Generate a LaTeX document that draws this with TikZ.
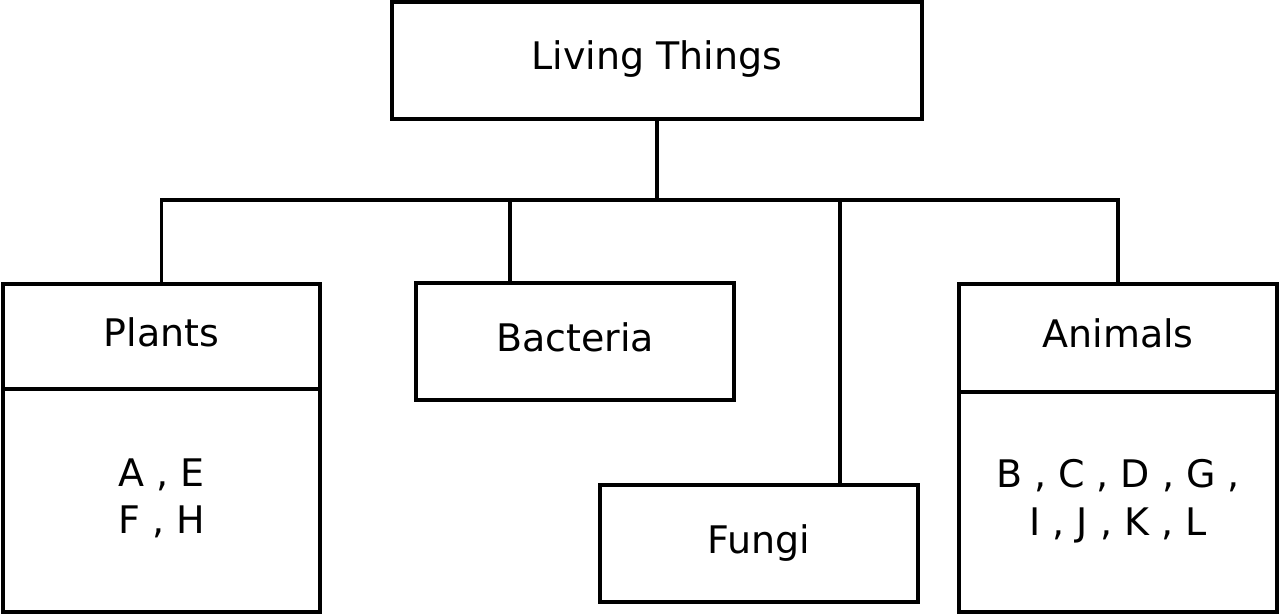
\documentclass[tikz,border=0pt]{standalone}
\usepackage{fontspec}
\setmainfont{DejaVu Sans}
\newcommand{\mybt}[1]{\raisebox{-2.1pt}{\begin{tabular}{@{}c@{}}#1\end{tabular}}}
\begin{document}
\begin{tikzpicture}[x=0.01cm,y=-0.01cm,
  box/.style={draw,line width=0.95pt,inner sep=0pt,outer sep=0pt,font=\fontsize{10.8}{13.5}\selectfont},
  conn/.style={line width=0.95pt}]
\useasboundingbox (0,0) rectangle (1280,615);
\node[box,minimum width=530*0.01cm,minimum height=117*0.01cm] (living) at (657,60.5) {\mybt{Living Things}};
\node[box,minimum width=317*0.01cm,minimum height=105*0.01cm] (plants) at (161.5,336.5) {\mybt{Plants}};
\node[box,minimum width=317*0.01cm,minimum height=223*0.01cm] (plantsb) at (161.5,500.5) {\mybt{A , E\\F , H}};
\node[box,minimum width=318*0.01cm,minimum height=117*0.01cm] (bact) at (575,341.5) {\mybt{Bacteria}};
\node[box,minimum width=318*0.01cm,minimum height=117*0.01cm] (fungi) at (759,543.5) {\mybt{Fungi}};
\node[box,minimum width=318*0.01cm,minimum height=108*0.01cm] (animals) at (1118,338) {\mybt{Animals}};
\node[box,minimum width=318*0.01cm,minimum height=220*0.01cm] (animalsb) at (1118,502) {\mybt{B , C , D , G ,\\I , J , K , L}};
\coordinate (j) at (657,200);
\coordinate (bc) at ([xshift=94*0.01cm]bact.north west);
\coordinate (fc) at ([xshift=240*0.01cm]fungi.north west);
\draw[conn] (living.south) -- (j);
\draw[conn] (plants.north) |- (j) -| (animals.north);
\draw[conn] (bc) -- (bc |- j);
\draw[conn] (fc) -- (fc |- j);
\end{tikzpicture}
\end{document}
